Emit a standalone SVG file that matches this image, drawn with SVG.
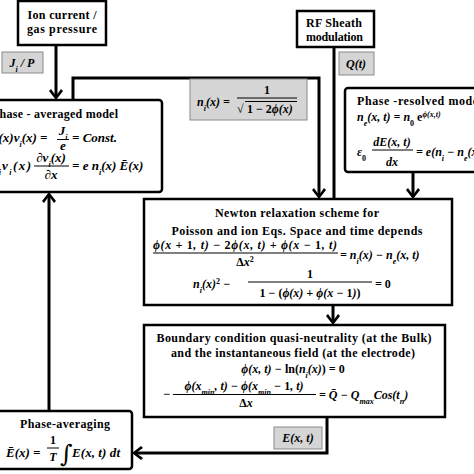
<svg xmlns="http://www.w3.org/2000/svg" width="474" height="474" viewBox="0 0 474 474">
<style>
.b{fill:#fff;stroke:#000;stroke-width:2.5}
.g{fill:#d5d5d5;stroke:#8a8a8a;stroke-width:1}
.t{font-family:"Liberation Serif",serif;font-weight:bold;font-size:12px;fill:#000}
.m{font-family:"Liberation Serif",serif;font-weight:bold;font-style:italic;font-size:12px;fill:#000}
.L{font-size:13px}
.n{font-style:normal}
.s{font-size:8px}
.bar{stroke:#000;stroke-width:1}
.c{fill:none;stroke:#000;stroke-width:3}
</style>
<defs>
<marker id="ah" markerUnits="userSpaceOnUse" markerWidth="16" markerHeight="16" viewBox="-12 -8 16 16" refX="0" refY="0" orient="auto" overflow="visible">
<polygon points="3,0 -6,-7 -8,-5 -1,0 -8,5 -6,7" fill="#000"/>
</marker>
</defs>
<rect width="474" height="474" fill="#fff"/>

<g id="connectors">
<path class="c" d="M56,45 V97" marker-end="url(#ah)"/>
<path class="c" d="M73,100 V78 H319 V196" marker-end="url(#ah)"/>
<path class="c" d="M334,47 V199"/>
<path class="c" d="M413,172 V196" marker-end="url(#ah)"/>
<path class="c" d="M333,305 V322" marker-end="url(#ah)"/>
<path class="c" d="M327,417 V453 H135" marker-end="url(#ah)"/>
<path class="c" d="M49,411 V195" marker-end="url(#ah)"/>
</g>

<g id="ion-current">
<rect class="b" x="18" y="1" width="88" height="44"/>
<text class="t" x="62" y="19" text-anchor="middle" textLength="69">Ion current /</text>
<text class="t" x="62" y="33" text-anchor="middle" textLength="70">gas pressure</text>
</g>

<g id="ji-p">
<rect class="g" x="2" y="52" width="41" height="21"/>
<text class="m" x="22" y="67" text-anchor="middle">J<tspan class="s" baseline-shift="sub">i</tspan> / P</text>
</g>

<g id="rf-sheath">
<rect class="b" x="297" y="11" width="77" height="36"/>
<text class="t" x="306" y="27" textLength="56">RF Sheath</text>
<text class="t" x="306" y="41" textLength="57">modulation</text>
</g>

<g id="q-t">
<rect class="g" x="339" y="52" width="35" height="23"/>
<text class="m" x="356" y="68" text-anchor="middle">Q(t)</text>
</g>

<g id="ni-relation">
<rect class="g" x="190" y="79" width="117" height="41"/>
<text class="m" x="197" y="106">n<tspan class="s" baseline-shift="sub">i</tspan>(x) =</text>
<text class="m" x="267" y="94" text-anchor="middle"><tspan class="n">1</tspan></text>
<line class="bar" x1="237" y1="98" x2="297" y2="98"/>
<text class="m" x="237" y="113"><tspan class="n">√</tspan></text>
<line class="bar" x1="245" y1="101.5" x2="297" y2="101.5"/>
<text class="m" x="247" y="113"><tspan class="n">1 − 2</tspan>ϕ(x)</text>
</g>

<g id="phase-averaged-model">
<rect class="b" x="-10" y="100" width="172" height="92" rx="3"/>
<text class="t" x="-8" y="118" textLength="126">Phase - averaged model</text>
<text class="m L" x="-11" y="142">n<tspan class="s" baseline-shift="sub">i</tspan>(x)v<tspan class="s" baseline-shift="sub">i</tspan>(x) =</text>
<text class="m L" x="63" y="135" text-anchor="middle">J<tspan class="s" baseline-shift="sub">i</tspan></text>
<line class="bar" x1="57" y1="139.5" x2="69" y2="139.5"/>
<text class="m L" x="63" y="150" text-anchor="middle">e</text>
<text class="m L" x="72" y="142">= Const.</text>
<text class="m L" x="1" y="170" text-anchor="end">m<tspan class="s" baseline-shift="sub">i</tspan></text>
<text class="m L" x="2" y="170" textLength="29">v<tspan class="s" baseline-shift="sub">i</tspan>(x)</text>
<text class="m L" x="51" y="162" text-anchor="middle">∂v<tspan class="s" baseline-shift="sub">i</tspan>(x)</text>
<line class="bar" x1="34" y1="166" x2="69" y2="166"/>
<text class="m L" x="51" y="179" text-anchor="middle">∂x</text>
<text class="m L" x="72" y="170">= e n<tspan class="s" baseline-shift="sub">i</tspan>(x)  Ē(x)</text>
</g>

<g id="phase-resolved-model">
<rect class="b" x="345" y="88" width="140" height="84" rx="3"/>
<text class="t" x="357" y="105" textLength="125">Phase -resolved model</text>
<text class="m" x="357" y="121">n<tspan class="s" baseline-shift="sub">e</tspan>(x, t) = n<tspan class="s n" baseline-shift="sub">0</tspan> <tspan class="n">e</tspan><tspan class="s" baseline-shift="super">ϕ(x,t)</tspan></text>
<text class="m" x="357" y="156">ε<tspan class="s n" baseline-shift="sub">0</tspan></text>
<text class="m" x="392" y="146" text-anchor="middle">dE(x, t)</text>
<line class="bar" x1="372" y1="150" x2="413" y2="150"/>
<text class="m" x="392" y="166" text-anchor="middle">dx</text>
<text class="m" x="416" y="156">= e(n<tspan class="s" baseline-shift="sub">i</tspan> − n<tspan class="s" baseline-shift="sub">e</tspan>(x, t))</text>
</g>

<g id="newton">
<rect class="b" x="144" y="199" width="308" height="106"/>
<text class="t" x="297" y="217" text-anchor="middle" textLength="164">Newton relaxation scheme for</text>
<text class="t" x="297" y="235" text-anchor="middle" textLength="251">Poisson and ion Eqs. Space and time depends</text>
<text class="m" x="245" y="249" text-anchor="middle" textLength="184">ϕ(x + <tspan class="n">1</tspan>, t) − <tspan class="n">2</tspan>ϕ(x, t) + ϕ(x − <tspan class="n">1</tspan>, t)</text>
<line class="bar" x1="153" y1="253" x2="338" y2="253"/>
<text class="m" x="245" y="266" text-anchor="middle"><tspan class="n">Δ</tspan>x<tspan class="s n" baseline-shift="super">2</tspan></text>
<text class="m" x="340" y="259">= n<tspan class="s" baseline-shift="sub">i</tspan>(x)  − n<tspan class="s" baseline-shift="sub">e</tspan>(x, t)</text>
<text class="m" x="193" y="288">n<tspan class="s" baseline-shift="sub">i</tspan>(x)<tspan class="s n" baseline-shift="super">2</tspan> −</text>
<text class="m" x="310" y="278" text-anchor="middle"><tspan class="n">1</tspan></text>
<line class="bar" x1="248" y1="282" x2="372" y2="282"/>
<text class="m" x="310" y="297" text-anchor="middle"><tspan class="n">1 − (</tspan>ϕ(x) + ϕ(x − <tspan class="n">1</tspan>)<tspan class="n">)</tspan></text>
<text class="m" x="375" y="288">= <tspan class="n">0</tspan></text>
</g>

<g id="boundary">
<rect class="b" x="144" y="325" width="301" height="92"/>
<text class="t" x="294" y="342" text-anchor="middle" textLength="275">Boundary condition quasi-neutrality (at the Bulk)</text>
<text class="t" x="293" y="357" text-anchor="middle" textLength="244">and the instantaneous field (at the electrode)</text>
<text class="m" x="293" y="373" text-anchor="middle">ϕ(x, t) − <tspan class="n">ln(</tspan>n<tspan class="s" baseline-shift="sub">i</tspan>(x)<tspan class="n">)</tspan> = <tspan class="n">0</tspan></text>
<text class="m" x="163" y="398">−</text>
<text class="m" x="244" y="390" text-anchor="middle">ϕ(x<tspan class="s" baseline-shift="sub">min</tspan>, t) − ϕ(x<tspan class="s" baseline-shift="sub">min</tspan> − <tspan class="n">1</tspan>, t)</text>
<line class="bar" x1="173" y1="394.5" x2="316" y2="394.5"/>
<text class="m" x="246" y="407" text-anchor="middle"><tspan class="n">Δ</tspan>x</text>
<text class="m" x="319" y="399">= Q̄ − Q<tspan class="s" baseline-shift="sub">max</tspan>Cos(t<tspan class="s" baseline-shift="sub">n</tspan>)</text>
</g>

<g id="phase-averaging">
<rect class="b" x="-10" y="411" width="142" height="58" rx="3"/>
<text class="t" x="65" y="428" text-anchor="middle" textLength="90">Phase-averaging</text>
<text class="m L" x="6" y="457">Ē(x) =</text>
<text class="m" x="53" y="444" text-anchor="middle"><tspan class="n">1</tspan></text>
<line class="bar" x1="47" y1="448" x2="59" y2="448"/>
<text class="m" x="53" y="461" text-anchor="middle">T</text>
<text x="60" y="462" font-family="DejaVu Serif, serif" font-size="24">∫</text>
<text class="m L" x="72" y="457" textLength="48">E(x, t) dt</text>
</g>

<g id="e-xt">
<rect class="g" x="274" y="427" width="48" height="22"/>
<text class="m" x="298" y="442" text-anchor="middle">E(x, t)</text>
</g>
</svg>
